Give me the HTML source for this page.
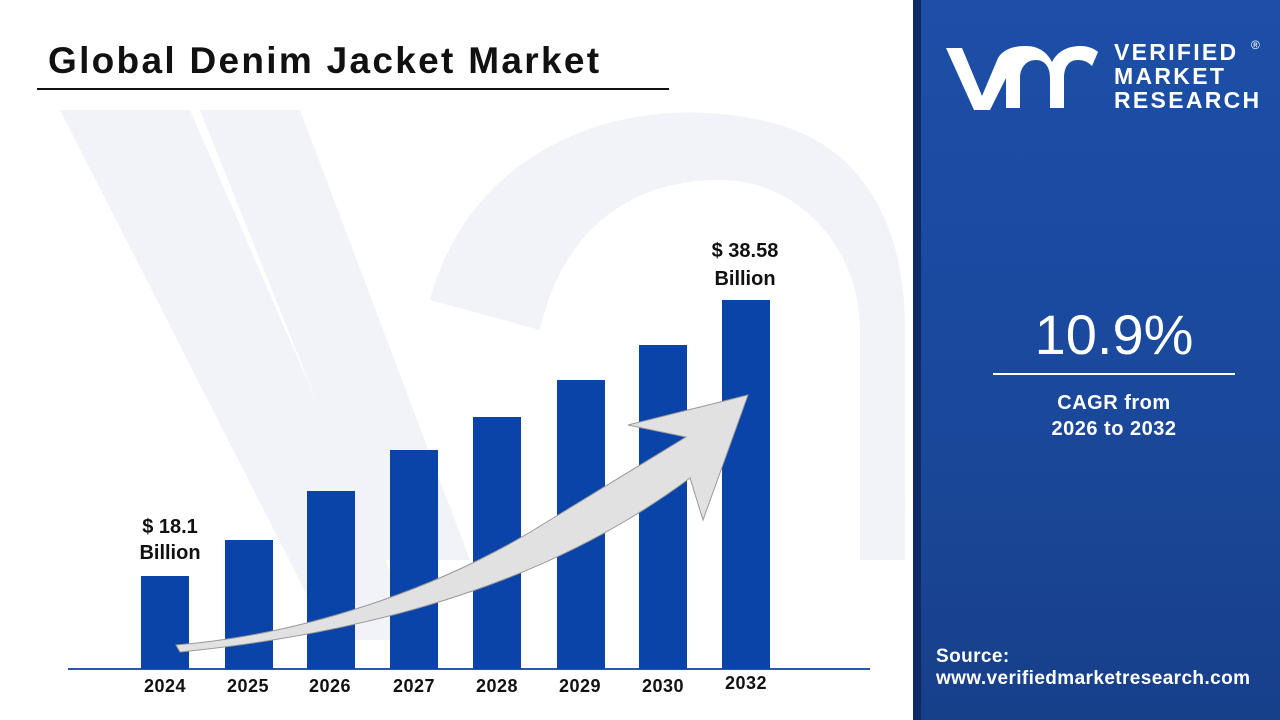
<!DOCTYPE html>
<html><head><meta charset="utf-8"><style>
body{margin:0;width:1280px;height:720px;overflow:hidden;font-family:"Liberation Sans",sans-serif;background:#fff;position:relative}
.t{position:absolute;font-weight:bold;color:#111}
.bar{position:absolute;background:#0a44a8;width:48px}
.yr{position:absolute;top:676px;width:60px;text-align:center;font-weight:bold;font-size:18px;color:#111;letter-spacing:0.5px}
</style></head><body>
<svg width="913" height="720" style="position:absolute;left:0;top:0">
<path d="M60 110 L190 110 L420 640 L330 640Z" fill="#f2f3f8"/>
<path d="M200 110 L300 110 L470 560 L380 560Z" fill="#f2f3f8"/>
<path d="M430 300 C 470 150 620 90 760 120 C 860 140 905 220 905 330 L 905 560 L 860 560 L 860 330 C 860 250 800 180 720 180 C 620 180 560 240 540 330 Z" fill="#f2f3f8"/>
<line x1="68" y1="669" x2="870" y2="669" stroke="#2a56b0" stroke-width="2"/>
</svg>
<div class="t" style="left:48px;top:40px;font-size:37px;letter-spacing:2.3px">Global Denim Jacket Market</div>
<div style="position:absolute;left:37px;top:88px;width:632px;height:2px;background:#111"></div>
<div class="bar" style="left:141px;top:576px;height:93px"></div>
<div class="bar" style="left:225px;top:540px;height:129px"></div>
<div class="bar" style="left:307px;top:491px;height:178px"></div>
<div class="bar" style="left:390px;top:450px;height:219px"></div>
<div class="bar" style="left:473px;top:417px;height:252px"></div>
<div class="bar" style="left:557px;top:380px;height:289px"></div>
<div class="bar" style="left:639px;top:345px;height:324px"></div>
<div class="bar" style="left:722px;top:300px;height:369px"></div>
<svg width="913" height="720" style="position:absolute;left:0;top:0">
<path d="M176 645 C 300 635 440 590 550 520 L 686 437 L 628 425 L 748 395 L 703 520 L 690 478 C 600 545 450 625 180 652 Z" fill="#e2e1e1" stroke="#999" stroke-width="1"/>
</svg>
<div class="t" style="left:120px;top:514px;width:100px;text-align:center;font-size:20px;line-height:26px">$ 18.1<br>Billion</div>
<div class="t" style="left:695px;top:237px;width:100px;text-align:center;font-size:20px;line-height:28px">$ 38.58<br>Billion</div>
<div class="yr" style="left:135px">2024</div>
<div class="yr" style="left:218px">2025</div>
<div class="yr" style="left:300px">2026</div>
<div class="yr" style="left:384px">2027</div>
<div class="yr" style="left:467px">2028</div>
<div class="yr" style="left:550px">2029</div>
<div class="yr" style="left:633px">2030</div>
<div class="yr" style="left:716px;top:673px">2032</div>
<div style="position:absolute;left:913px;top:0;width:367px;height:720px;background:linear-gradient(180deg,#1d4fa8 0%,#1a4aa0 40%,#1a4696 70%,#173f8a 100%)"></div>
<div style="position:absolute;left:913px;top:0;width:8px;height:720px;background:#0d2a66"></div>
<svg width="160" height="80" style="position:absolute;left:940px;top:38px">
<path d="M6 10 L22 10 L42 58 L58 20 C64 10 76 8 86 8 C100 8 108 16 112 24 C118 12 130 8 140 8 C150 8 156 12 158 14 L152 28 C148 24 144 22 138 22 C128 22 124 30 124 40 L124 70 L110 70 L110 40 C110 28 104 22 96 22 C86 22 80 30 80 40 L80 70 L66 70 L66 40 L50 72 L34 72 Z" fill="#fff"/>
</svg>
<div style="position:absolute;left:1114px;top:40px;color:#fff;font-weight:bold;font-size:23px;line-height:24px;letter-spacing:2.3px">VERIFIED<br>MARKET<br>RESEARCH</div>
<div style="position:absolute;left:1251px;top:38px;color:#fff;font-size:12px">®</div>
<div style="position:absolute;left:993px;top:302px;width:242px;text-align:center;color:#fff;font-size:56px">10.9%</div>
<div style="position:absolute;left:993px;top:373px;width:242px;height:2px;background:#fff"></div>
<div style="position:absolute;left:993px;top:390px;width:242px;text-align:center;color:#fff;font-weight:bold;font-size:20px;line-height:26px;letter-spacing:0.5px">CAGR from<br>2026 to 2032</div>
<div style="position:absolute;left:936px;top:646px;color:#fff;font-weight:bold;font-size:19px;line-height:22px;letter-spacing:0.4px">Source:<br>www.verifiedmarketresearch.com</div>
</body></html>
